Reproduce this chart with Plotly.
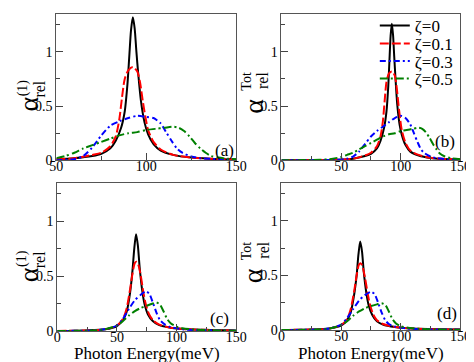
import plotly.graph_objects as go

# ---------------- data ----------------
# Panel (a): alpha_rel^(1), x 50..150
a_x_k = [50, 60, 70, 75, 80, 83, 86, 88, 89.5, 90.5, 91.5, 92.5, 93.5, 94.5, 95.5, 97, 99, 101, 104, 108, 115, 125, 135, 150]
a_y_k = [0.01, 0.02, 0.04, 0.06, 0.11, 0.18, 0.3, 0.45, 0.7, 0.95, 1.2, 1.32, 1.22, 1.0, 0.8, 0.55, 0.35, 0.24, 0.15, 0.09, 0.05, 0.025, 0.015, 0.008]
a_x_r = [50, 60, 70, 75, 80, 83, 85, 86.5, 88, 90, 92.5, 95, 96.5, 98, 99.5, 101, 104, 108, 115, 125, 135, 150]
a_y_r = [0.01, 0.02, 0.05, 0.07, 0.13, 0.22, 0.38, 0.58, 0.75, 0.83, 0.86, 0.82, 0.72, 0.55, 0.4, 0.28, 0.17, 0.1, 0.05, 0.025, 0.015, 0.008]
a_x_b = [50, 55, 60, 65, 70, 75, 80, 85, 90, 95, 100, 104, 108, 111, 114, 117, 120, 125, 130, 140, 150]
a_y_b = [0.0, 0.005, 0.01, 0.04, 0.12, 0.23, 0.32, 0.36, 0.39, 0.41, 0.4, 0.39, 0.34, 0.26, 0.18, 0.11, 0.07, 0.035, 0.02, 0.01, 0.005]
a_x_g = [50, 55, 60, 65, 70, 75, 80, 85, 90, 95, 100, 105, 110, 115, 118, 121, 124, 127, 130, 133, 136, 140, 145, 150]
a_y_g = [0.02, 0.04, 0.07, 0.11, 0.14, 0.17, 0.2, 0.23, 0.25, 0.26, 0.28, 0.29, 0.3, 0.31, 0.3, 0.27, 0.22, 0.16, 0.11, 0.07, 0.04, 0.025, 0.015, 0.01]

# Panel (b): alpha_rel^Tot, x 0..150
b_x_k = [0, 25, 50, 60, 70, 75, 80, 83, 86, 88, 89.5, 90.5, 91.5, 92.5, 93.5, 94.5, 95.5, 97, 99, 101, 104, 108, 115, 125, 135, 150]
b_y_k = [0, 0.002, 0.006, 0.015, 0.04, 0.06, 0.11, 0.18, 0.3, 0.45, 0.68, 0.92, 1.15, 1.26, 1.16, 0.96, 0.77, 0.52, 0.33, 0.23, 0.14, 0.08, 0.045, 0.022, 0.013, 0.007]
b_x_r = [0, 25, 50, 60, 70, 75, 80, 83, 85, 86.5, 88, 90, 92.5, 95, 96.5, 98, 99.5, 101, 104, 108, 115, 125, 135, 150]
b_y_r = [0, 0.002, 0.006, 0.015, 0.045, 0.07, 0.13, 0.22, 0.36, 0.55, 0.72, 0.8, 0.82, 0.78, 0.68, 0.52, 0.38, 0.27, 0.16, 0.09, 0.05, 0.024, 0.014, 0.007]
b_x_b = [0, 25, 45, 55, 60, 65, 70, 75, 80, 85, 90, 95, 100, 104, 108, 111, 114, 117, 120, 125, 130, 140, 150]
b_y_b = [0, 0.002, 0.005, 0.015, 0.035, 0.08, 0.15, 0.22, 0.27, 0.31, 0.35, 0.39, 0.41, 0.39, 0.33, 0.25, 0.17, 0.1, 0.065, 0.035, 0.02, 0.01, 0.005]
b_x_g = [0, 25, 40, 50, 55, 60, 65, 70, 75, 80, 85, 90, 95, 100, 105, 110, 115, 118, 121, 124, 127, 130, 133, 137, 142, 150]
b_y_g = [0, 0.003, 0.01, 0.03, 0.05, 0.07, 0.1, 0.13, 0.16, 0.19, 0.22, 0.24, 0.25, 0.27, 0.28, 0.29, 0.3, 0.29, 0.26, 0.21, 0.15, 0.1, 0.06, 0.035, 0.02, 0.01]

# Panel (c): alpha_rel^(1), x 0..150
c_x_k = [0, 25, 40, 50, 55, 58, 61, 63, 64.5, 66, 67.5, 69, 71, 73, 76, 80, 85, 95, 110, 130, 150]
c_y_k = [0, 0.005, 0.015, 0.045, 0.1, 0.17, 0.35, 0.55, 0.75, 0.88, 0.78, 0.58, 0.38, 0.25, 0.15, 0.09, 0.055, 0.03, 0.015, 0.008, 0.004]
c_x_r = [0, 25, 40, 50, 55, 58, 61, 63, 65, 66.5, 68, 70, 72, 74, 77, 80, 85, 95, 110, 130, 150]
c_y_r = [0, 0.005, 0.015, 0.05, 0.11, 0.2, 0.38, 0.52, 0.62, 0.63, 0.6, 0.5, 0.36, 0.25, 0.15, 0.1, 0.06, 0.03, 0.015, 0.008, 0.004]
c_x_b = [0, 30, 40, 50, 55, 60, 65, 70, 74, 77, 80, 83, 86, 90, 95, 105, 120, 150]
c_y_b = [0, 0.005, 0.015, 0.05, 0.11, 0.2, 0.28, 0.33, 0.36, 0.34, 0.26, 0.17, 0.1, 0.06, 0.035, 0.015, 0.008, 0.003]
c_x_g = [0, 30, 40, 50, 55, 60, 65, 70, 75, 80, 83, 86, 89, 92, 95, 100, 105, 115, 130, 150]
c_y_g = [0, 0.005, 0.015, 0.05, 0.09, 0.14, 0.18, 0.21, 0.23, 0.25, 0.26, 0.24, 0.18, 0.11, 0.07, 0.04, 0.025, 0.012, 0.006, 0.003]

# Panel (d): alpha_rel^Tot, x 0..150
d_x_k = [0, 25, 40, 50, 55, 58, 61, 63, 64.5, 66, 67.5, 69, 71, 73, 76, 80, 85, 95, 110, 130, 150]
d_y_k = [0, 0.004, 0.013, 0.04, 0.09, 0.16, 0.33, 0.5, 0.69, 0.81, 0.72, 0.53, 0.35, 0.23, 0.14, 0.08, 0.05, 0.027, 0.013, 0.007, 0.004]
d_x_r = [0, 25, 40, 50, 55, 58, 61, 63, 65, 66.5, 68, 70, 72, 74, 77, 80, 85, 95, 110, 130, 150]
d_y_r = [0, 0.004, 0.013, 0.045, 0.1, 0.19, 0.36, 0.5, 0.6, 0.61, 0.58, 0.48, 0.35, 0.24, 0.14, 0.09, 0.055, 0.028, 0.014, 0.007, 0.004]
d_x_b = [0, 30, 40, 50, 55, 60, 65, 70, 75, 78, 81, 84, 87, 90, 95, 105, 120, 150]
d_y_b = [0, 0.004, 0.013, 0.05, 0.11, 0.19, 0.27, 0.32, 0.35, 0.33, 0.25, 0.16, 0.09, 0.055, 0.032, 0.014, 0.007, 0.003]
d_x_g = [0, 30, 40, 50, 55, 60, 65, 70, 75, 80, 84, 87, 90, 93, 96, 100, 105, 115, 130, 150]
d_y_g = [0, 0.004, 0.013, 0.045, 0.08, 0.13, 0.17, 0.2, 0.22, 0.235, 0.245, 0.23, 0.17, 0.1, 0.06, 0.035, 0.022, 0.011, 0.005, 0.002]

series_names = ["ζ=0", "ζ=0.1", "ζ=0.3", "ζ=0.5"]
panel_labels = ["(a)", "(b)", "(c)", "(d)"]
x_title = "Photon Energy(meV)"

# ---------------- styling ----------------
FONT = "Liberation Serif"
colors = ["black", "#ff0000", "#0000ff", "#008000"]
dashes = ["solid", "9px,3px", "6px,3px,2px,3px", "8px,3px,2px,3px"]

panels = [
    [(a_x_k, a_y_k), (a_x_r, a_y_r), (a_x_b, a_y_b), (a_x_g, a_y_g)],
    [(b_x_k, b_y_k), (b_x_r, b_y_r), (b_x_b, b_y_b), (b_x_g, b_y_g)],
    [(c_x_k, c_y_k), (c_x_r, c_y_r), (c_x_b, c_y_b), (c_x_g, c_y_g)],
    [(d_x_k, d_y_k), (d_x_r, d_y_r), (d_x_b, d_y_b), (d_x_g, d_y_g)],
]

W, H = 474, 362
def px_x(p):
    return p / W
def px_y(p):
    return 1 - p / H

# panel pixel boxes: (left, right, top, bottom)
boxes = [(43, 230, 3, 154), (277, 463, 3, 154), (44, 230, 177, 330), (277, 463, 177, 329)]
xranges = [[50, 150], [0, 150], [0, 150], [0, 150]]

fig = go.Figure()
legend_names = ["legend", "legend2", "legend3", "legend4"]
for pi, series in enumerate(panels):
    xa = "x" if pi == 0 else f"x{pi+1}"
    ya = "y" if pi == 0 else f"y{pi+1}"
    for si, (xs, ys) in enumerate(series):
        fig.add_trace(go.Scatter(
            x=xs, y=ys, mode="lines", name=series_names[si],
            line=dict(color=colors[si], width=2, dash=dashes[si], shape="spline", smoothing=0.7),
            xaxis=xa, yaxis=ya,
            showlegend=(pi == 1), legend=legend_names[si],
        ))

layout = dict(
    width=W, height=H, margin=dict(l=0, r=0, t=0, b=0),
    paper_bgcolor="white", plot_bgcolor="white",
    font=dict(family=FONT, size=14, color="black"),
)
for pi, (l, r, t, b) in enumerate(boxes):
    xk = "xaxis" if pi == 0 else f"xaxis{pi+1}"
    yk = "yaxis" if pi == 0 else f"yaxis{pi+1}"
    ya = "y" if pi == 0 else f"y{pi+1}"
    xa = "x" if pi == 0 else f"x{pi+1}"
    layout[xk] = dict(
        domain=[px_x(l), px_x(r)], anchor=ya, range=xranges[pi],
        dtick=50, tick0=0, ticks="inside", ticklen=7, tickcolor="#444",
        minor=dict(dtick=25, ticks="inside", ticklen=4, tickcolor="#444"),
        showline=True, linecolor="#555", linewidth=1, mirror=True,
        showgrid=False, zeroline=False, tickfont=dict(size=14, family=FONT),
        ticklabelstandoff=-7,
    )
    layout[yk] = dict(
        domain=[px_y(b), px_y(t)], anchor=xa, range=[0, 1.35],
        dtick=0.5, tick0=0, ticks="inside", ticklen=7, tickcolor="#444",
        minor=dict(dtick=0.25, ticks="inside", ticklen=4, tickcolor="#444"),
        showline=True, linecolor="#555", linewidth=1, mirror=True,
        showgrid=False, zeroline=False, tickfont=dict(size=14, family=FONT),
    )

annotations = []
# panel labels
label_pos = [(218, 144), (447, 135), (213, 317), (449, 312)]
for lab, (x, y) in zip(panel_labels, label_pos):
    annotations.append(dict(text=lab, x=px_x(x), y=px_y(y), xref="paper", yref="paper",
                            showarrow=False, font=dict(size=17, family=FONT), xanchor="center", yanchor="middle"))
# y-axis titles (alpha with superscript and subscript), rotated
sups = ["(1)", "Tot", "(1)", "Tot"]
title_pos = [
    # alpha (x,y), sup (x,y), sub (x,y)
    ((14, 96), (8, 79), (25, 81)),
    ((247, 98), (241, 72), (258, 72)),
    ((14, 272), (8, 255), (25, 257)),
    ((247, 273), (241, 247), (258, 247)),
]
for sup, (pa, ps, pb) in zip(sups, title_pos):
    annotations.append(dict(text="α", x=px_x(pa[0]), y=px_y(pa[1]), xref="paper", yref="paper", textangle=-90,
                            showarrow=False, font=dict(size=28, family=FONT), xanchor="center", yanchor="middle"))
    annotations.append(dict(text=sup, x=px_x(ps[0]), y=px_y(ps[1]), xref="paper", yref="paper", textangle=-90,
                            showarrow=False, font=dict(size=14, family=FONT), xanchor="center", yanchor="middle"))
    annotations.append(dict(text="rel", x=px_x(pb[0]), y=px_y(pb[1]), xref="paper", yref="paper", textangle=-90,
                            showarrow=False, font=dict(size=16, family=FONT), xanchor="center", yanchor="middle"))
# x titles
for cx in (137, 370):
    annotations.append(dict(text=x_title, x=px_x(cx), y=px_y(353), xref="paper", yref="paper",
                            showarrow=False, font=dict(size=17, family=FONT), xanchor="center", yanchor="middle"))
layout["annotations"] = annotations

# four single-entry legends stacked in panel (b)
leg_y = [15, 34, 52, 70]
for ln, yy in zip(legend_names, leg_y):
    layout[ln] = dict(x=px_x(374), y=px_y(yy), xanchor="left", yanchor="middle",
                      bgcolor="rgba(0,0,0,0)", borderwidth=0, font=dict(size=17, family=FONT),
                      itemwidth=30)

fig.update_layout(**layout)
fig.write_html("out.html")
